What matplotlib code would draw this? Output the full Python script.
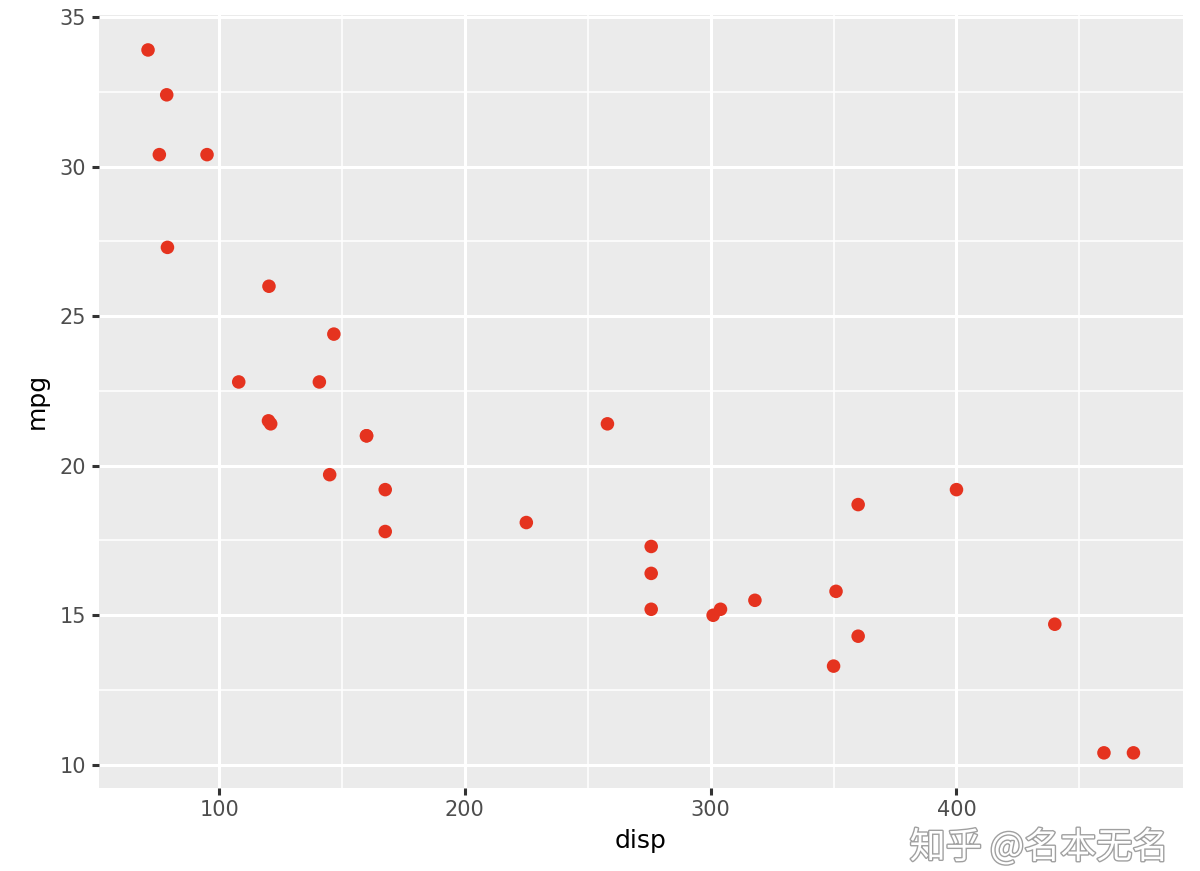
import matplotlib
matplotlib.use("Agg")
import matplotlib.pyplot as plt
import matplotlib.patheffects as pe
from matplotlib.ticker import MultipleLocator

disp = [160, 160, 108, 258, 360, 225, 360, 146.7, 140.8, 167.6, 167.6, 275.8, 275.8, 275.8,
        472, 460, 440, 78.7, 75.7, 71.1, 120.1, 318, 304, 350, 400, 79, 120.3, 95.1, 351,
        145, 301, 121]
mpg = [21.0, 21.0, 22.8, 21.4, 18.7, 18.1, 14.3, 24.4, 22.8, 19.2, 17.8, 16.4, 17.3, 15.2,
       10.4, 10.4, 14.7, 32.4, 30.4, 33.9, 21.5, 15.5, 15.2, 13.3, 19.2, 27.3, 26.0, 30.4, 15.8,
       19.7, 15.0, 21.4]
x_ticks = [100, 200, 300, 400]
y_ticks = [10, 15, 20, 25, 30, 35]

fig = plt.figure(figsize=(12, 8.71), dpi=100)
ax = fig.add_axes([0.0823, 0.0953, 0.9033, 0.8877])
ax.set_facecolor('#EBEBEB')
for s in ax.spines.values():
    s.set_visible(False)

xmin, xmax = min(disp), max(disp)
ymin, ymax = min(mpg), max(mpg)
ex = (xmax - xmin) * 0.05
ey = (ymax - ymin) * 0.05
ax.set_xlim(xmin - ex, xmax + ex)
ax.set_ylim(ymin - ey, ymax + ey)

ax.set_xticks(x_ticks)
ax.set_yticks(y_ticks)
ax.xaxis.set_minor_locator(MultipleLocator(50))
ax.yaxis.set_minor_locator(MultipleLocator(2.5))
ax.grid(which='major', color='white', linewidth=2.2)
ax.grid(which='minor', color='white', linewidth=1.1)
ax.set_axisbelow(True)
ax.tick_params(which='major', length=5, width=2.2, color='#333333',
               labelsize=15, labelcolor='#4D4D4D', pad=4)
ax.tick_params(which='minor', length=0)

ax.scatter(disp, mpg, s=95, color='#E5331F', edgecolors='none', zorder=3)

ax.set_xlabel('disp', fontsize=18, color='black', labelpad=6)
ax.set_ylabel('mpg', fontsize=18, color='black', labelpad=8)

fig.text(0.758, 0.027, '知乎 @名本无名', fontsize=26, color='white',
         family=['Noto Sans CJK SC', 'DejaVu Sans'], va='center', ha='left',
         path_effects=[pe.withStroke(linewidth=2, foreground='#a0a0a0')])

fig.savefig('out.png', dpi=100)
